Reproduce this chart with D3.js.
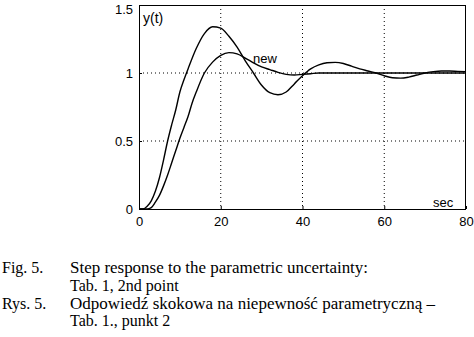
<!DOCTYPE html>
<html><head><meta charset="utf-8">
<script src="https://cdn.jsdelivr.net/npm/d3@7"></script>
<style>body{margin:0;background:#fff}svg{display:block}.cap{font-family:"Liberation Serif","Times New Roman",serif;font-size:16px}</style>
</head><body>
<svg id="c" width="474" height="337"></svg>
<script>
const timeA = [0,1,2,3,4,5,6,7,8,9,10,11,12,14,16,18,20,22,24,26,28,30,32,34,36,38,40,42,44,46,48,50,52,54,56,58,60,62,64,66,68,70,72,74,76,78,80];
const seriesA = [0,0,0.02,0.06,0.13,0.23,0.36,0.5,0.62,0.73,0.86,0.95,1.03,1.18,1.29,1.34,1.33,1.27,1.19,1.09,1.0,0.91,0.855,0.84,0.86,0.92,0.98,1.03,1.06,1.075,1.078,1.07,1.05,1.03,1.015,1.0,0.98,0.965,0.962,0.97,0.985,1.0,1.01,1.015,1.015,1.012,1.01];
const timeB = [0,2,3,4,5,6,7,8,9,10,11,12,13,14,16,18,20,22,24,26,28,30,32,34,36,38,40,42,44,48,52,56,60,64,68,72,76,80];
const seriesB = [0,0,0.01,0.05,0.1,0.17,0.25,0.34,0.43,0.52,0.6,0.68,0.78,0.86,1.0,1.08,1.13,1.15,1.14,1.11,1.075,1.045,1.025,1.005,0.99,0.985,0.99,0.995,1.0,1.0,1.0,1.0,1.0,1.0,1.0,1.0,1.0,1.0];
const xTicks = [0,20,40,60,80];
const yTicks = [0,0.5,1,1.5];
const yTickLabels = ["0","0.5","1","1.5"];
const captionLabels = ["Fig. 5.","","Rys. 5.",""];
const captionTexts = ["Step response to the parametric uncertainty:","Tab. 1, 2nd point","Odpowiedź skokowa na niepewność parametryczną –","Tab. 1., punkt 2"];
const captionWidths = [298,null,365,null];

const svg = d3.select("#c");
const L=139,R=466,T=5,B=209;
const x = d3.scaleLinear().domain([0,80]).range([L,R]);
const y = d3.scaleLinear().domain([0,1.5]).range([B,T]);
const sans = "'Liberation Sans', Arial, sans-serif";

// grid
const g = svg.append("g");
[20,40,60].forEach(v=>g.append("line").attr("x1",x(v)).attr("x2",x(v)).attr("y1",T).attr("y2",B)
  .attr("stroke","#000").attr("stroke-width",1).attr("stroke-dasharray","1,3"));
[0.5,1].forEach(v=>g.append("line").attr("x1",L).attr("x2",R).attr("y1",y(v)).attr("y2",y(v))
  .attr("stroke","#000").attr("stroke-width",1).attr("stroke-dasharray","1,3"));

// axes
const xa = svg.append("g").attr("transform",`translate(0,${B})`)
  .call(d3.axisBottom(x).tickValues(xTicks).tickSize(-3).tickPadding(6));
const ya = svg.append("g").attr("transform",`translate(${L},0)`)
  .call(d3.axisLeft(y).tickValues(yTicks).tickFormat((d,i)=>yTickLabels[i]).tickSize(-3).tickPadding(6));
[xa,ya].forEach(a=>{a.select(".domain").remove();a.selectAll("line").attr("stroke","#000");
  a.selectAll("text").attr("font-family",sans).attr("font-size",13).attr("fill","#000");});
xa.selectAll("text").attr("dy","0.85em");
ya.selectAll(".tick").filter(d=>d===1.5).select("text").attr("dy","0.75em").attr("y",-1);

// frame
svg.append("rect").attr("x",L+0.5).attr("y",T+0.5).attr("width",R-L-1).attr("height",B-T)
  .attr("fill","none").attr("stroke","#000").attr("stroke-width",1);

const line = d3.line().curve(d3.curveMonotoneX);
svg.append("path").attr("d",line(timeA.map((t,i)=>[x(t),y(seriesA[i])])))
  .attr("fill","none").attr("stroke","#000").attr("stroke-width",1.4);
svg.append("path").attr("d",line(timeB.map((t,i)=>[x(t),y(seriesB[i])])))
  .attr("fill","none").attr("stroke","#000").attr("stroke-width",1.4);

svg.append("text").attr("x",143).attr("y",23).text("y(t)").attr("font-family",sans).attr("font-size",14);
svg.append("text").attr("x",253).attr("y",63).text("new").attr("font-family",sans).attr("font-size",13);
svg.append("text").attr("x",433).attr("y",207).text("sec").attr("font-family",sans).attr("font-size",13);

captionTexts.forEach((t,i)=>{
  const yy = 273+i*17.8;
  svg.append("text").attr("class","cap").attr("x",2).attr("y",yy).text(captionLabels[i]);
  const tx = svg.append("text").attr("class","cap").attr("x",70).attr("y",yy).text(t);
  if (captionWidths[i]) tx.attr("textLength",captionWidths[i]).attr("lengthAdjust","spacingAndGlyphs");
});
</script>
</body></html>
